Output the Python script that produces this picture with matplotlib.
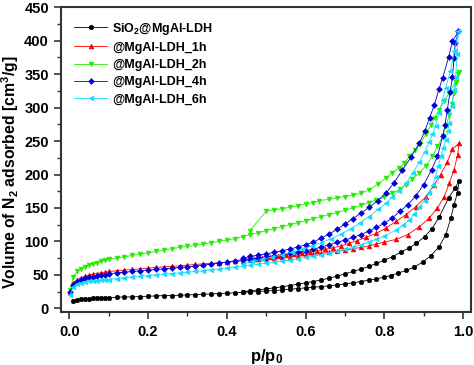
import matplotlib
matplotlib.use("Agg")
import matplotlib.pyplot as plt
from matplotlib.ticker import MultipleLocator

plt.rcParams['font.family'] = ['Liberation Sans', 'DejaVu Sans']
plt.rcParams['font.weight'] = 'bold'
plt.rcParams['mathtext.fontset'] = 'custom'
plt.rcParams['mathtext.rm'] = 'Liberation Sans:bold'
plt.rcParams['mathtext.it'] = 'Liberation Sans:bold'
plt.rcParams['mathtext.bf'] = 'Liberation Sans:bold'

labels = ["SiO$_2$@MgAl-LDH", "@MgAl-LDH_1h", "@MgAl-LDH_2h", "@MgAl-LDH_4h", "@MgAl-LDH_6h"]
colors = ["#000000", "#ff0000", "#22ee00", "#0000dd", "#11ddff"]
markers = ["o", "^", "v", "D", "<"]
msizes = [3.3, 3.5, 3.5, 3.0, 3.5]

# common low/mid relative-pressure grid for the adsorption branches
p_low = [0.01, 0.02, 0.03, 0.04, 0.05, 0.06, 0.07, 0.08, 0.09, 0.10,
         0.12, 0.14, 0.16, 0.18, 0.20, 0.22, 0.24, 0.26, 0.28, 0.30,
         0.32, 0.34, 0.36, 0.38, 0.40, 0.42, 0.44, 0.46, 0.48, 0.50,
         0.52, 0.54, 0.56, 0.58, 0.60, 0.62, 0.64, 0.66, 0.68, 0.70,
         0.72, 0.74, 0.76, 0.78, 0.80]

# ---- SiO2@MgAl-LDH
black_ads_v = [11, 12.5, 13.5, 14, 14.5, 15, 15, 15.5, 15.5, 16,
               16.5, 17, 17, 17.5, 18, 18.5, 19, 19, 19.5, 20,
               20.5, 21, 21.5, 22, 22.5, 23, 24, 24.5, 25, 26,
               26.5, 27.5, 28.5, 29.5, 30.5, 31.5, 32.5, 33.5, 35, 36.5,
               38, 40, 42, 44, 46.5]
black_ads_hp = [0.817, 0.834, 0.855, 0.876, 0.897, 0.918, 0.939, 0.956, 0.969, 0.977, 0.986, 0.99]
black_ads_hv = [49, 52.5, 56.5, 61.5, 69, 78.5, 92, 110, 135, 155, 173, 191]
black_des_p = [0.98, 0.963, 0.939, 0.921, 0.902, 0.881, 0.862, 0.842, 0.821, 0.80, 0.78, 0.76, 0.74,
               0.72, 0.70, 0.68, 0.66, 0.64, 0.62, 0.60, 0.58, 0.56, 0.54, 0.52, 0.50, 0.48, 0.46, 0.44]
black_des_v = [180, 165, 136, 119, 107, 97, 90, 84, 77, 72, 67, 62.5, 58.5,
               55, 51.5, 48, 45, 42.5, 40, 38, 36, 34, 32, 30.5, 29, 27.5, 26, 25]

# ---- @MgAl-LDH_1h
red_first = [0.002, 24]
red_ads_v = [38.5, 43, 46, 48, 49.5, 51, 52, 53, 54, 55,
             56, 57, 58, 59, 60, 61, 62, 62.5, 63.5, 64.5,
             65.5, 66.5, 67, 68, 69, 70, 71, 72, 73, 74,
             75, 76, 77, 78, 79, 80.5, 82, 83.5, 85, 87,
             89, 91, 93, 96, 99]
red_ads_hp = [0.83, 0.859, 0.889, 0.914, 0.935, 0.952, 0.965, 0.977, 0.986, 0.99]
red_ads_hv = [103, 110, 122, 135, 150, 167, 187, 207, 229, 247]
red_des_p = [0.973, 0.96, 0.943, 0.927, 0.906, 0.88, 0.855, 0.83, 0.804, 0.779, 0.754, 0.73,
             0.71, 0.69, 0.67, 0.65, 0.63, 0.61, 0.59, 0.57, 0.55, 0.53, 0.51, 0.49, 0.47]
red_des_v = [238, 219, 200, 185, 167, 152, 140, 130, 120, 112, 106, 101,
             97, 93.5, 90.5, 88, 86, 84, 82, 80.5, 79, 77.5, 76, 74.5, 73]

# ---- @MgAl-LDH_2h
green_first = [0.002, 28]
green_ads_v = [47, 55, 59, 62, 64, 66, 68, 70, 71.5, 73,
               75, 77, 79, 81, 83, 85, 87, 89, 91, 92.5,
               94, 96, 98, 100, 102, 104, 107, 110, 113, 116,
               119, 122, 125, 128, 131, 134, 137, 140, 143, 146.5,
               150, 154, 158, 162, 166]
green_ads_hp = [0.82, 0.84, 0.855, 0.87, 0.889, 0.905, 0.922, 0.935, 0.948, 0.957, 0.965, 0.972, 0.977, 0.982, 0.986, 0.99]
green_ads_hv = [172, 178, 185, 193, 202, 213, 227, 242, 257, 273, 289, 305, 322, 337, 351, 354]
green_des_p = [0.981, 0.965, 0.952, 0.939, 0.928, 0.918, 0.905, 0.89, 0.877, 0.863, 0.85, 0.838,
               0.82, 0.804, 0.785, 0.762, 0.74, 0.72, 0.70, 0.68, 0.66, 0.635, 0.62, 0.60,
               0.58, 0.56, 0.54, 0.52, 0.50, 0.458]
green_des_v = [339, 322, 310, 297, 285, 274, 260, 245, 236, 227, 217, 210,
               202, 195, 186, 177, 172, 169, 167, 165, 163, 161, 158, 156,
               153, 151, 149, 147, 145, 116]

# ---- @MgAl-LDH_4h
blue_first = [0.002, 24]
blue_ads_v = [35, 40, 43, 45, 46.5, 47.5, 48.5, 49.5, 50.5, 51.5,
              53, 54, 55, 56, 57, 58, 59, 60, 61, 62,
              63, 64.5, 66, 67.5, 69, 71, 72.5, 74, 75.5, 77,
              78.5, 80, 82, 84, 86, 88.5, 91.5, 95, 98.5, 102,
              106, 110, 115, 121, 127]
blue_ads_hp = [0.82, 0.84, 0.86, 0.88, 0.90, 0.92, 0.935, 0.948, 0.954, 0.96, 0.967, 0.973, 0.977, 0.98, 0.988]
blue_ads_hv = [135, 145, 155, 168, 185, 207, 227, 257, 274, 297, 324, 346, 374, 396, 414]
blue_des_p = [0.973, 0.963, 0.948, 0.939, 0.927, 0.915, 0.903, 0.889, 0.868, 0.846, 0.825, 0.804,
              0.783, 0.762, 0.74, 0.72, 0.70, 0.68, 0.66, 0.64, 0.62, 0.60, 0.58, 0.56,
              0.54, 0.52, 0.50, 0.48, 0.46, 0.44]
blue_des_v = [399, 375, 344, 328, 304, 285, 265, 247, 226, 207, 188, 172,
              161, 151, 142, 134, 126, 118, 111, 105, 99, 95, 91.5, 88.5,
              86, 83.5, 81.5, 79.5, 77.5, 75]

# ---- @MgAl-LDH_6h
cyan_first = [0.002, 20]
cyan_ads_v = [32.5, 36, 38, 39.5, 40.5, 41, 41.5, 42, 42.5, 43,
              44.5, 46, 47, 48, 49, 50, 51, 52, 53, 54,
              55, 56, 57.5, 58.5, 60, 61.5, 63, 64.5, 66, 67.5,
              69, 70.5, 72, 74, 76, 78, 80, 82.5, 85, 88,
              91, 95, 99, 103, 108]
cyan_ads_hp = [0.83, 0.847, 0.863, 0.876, 0.889, 0.902, 0.914, 0.923, 0.93, 0.937, 0.943, 0.95, 0.956,
               0.961, 0.965, 0.971, 0.977, 0.981, 0.985, 0.988]
cyan_ads_hv = [117, 124, 132, 141, 152, 161, 172, 184, 197, 212, 227, 240, 252,
               265, 277, 302, 327, 346, 380, 414]
cyan_des_p = [0.978, 0.968, 0.956, 0.948, 0.939, 0.93, 0.922, 0.914, 0.902, 0.889, 0.872, 0.855,
              0.838, 0.82, 0.804, 0.785, 0.76, 0.737, 0.715, 0.69, 0.665, 0.64, 0.615, 0.59,
              0.565, 0.54, 0.515, 0.49, 0.465, 0.44]
cyan_des_v = [385, 355, 330, 312, 292, 272, 260, 249, 233, 219, 202, 187,
              176, 166, 157, 148, 137, 127, 119, 111, 104, 98, 93, 88,
              84, 80, 76.5, 73, 70, 66]

series = [
    (None, black_ads_v, black_ads_hp, black_ads_hv, black_des_p, black_des_v),
    (red_first, red_ads_v, red_ads_hp, red_ads_hv, red_des_p, red_des_v),
    (green_first, green_ads_v, green_ads_hp, green_ads_hv, green_des_p, green_des_v),
    (blue_first, blue_ads_v, blue_ads_hp, blue_ads_hv, blue_des_p, blue_des_v),
    (cyan_first, cyan_ads_v, cyan_ads_hp, cyan_ads_hv, cyan_des_p, cyan_des_v),
]

fig = plt.figure(figsize=(4.74, 3.65), dpi=100)
ax = fig.add_axes([0.1297, 0.1444, 0.8639, 0.8356])

for (first, av, hp, hv, dp, dv), lab, c, m, ms in zip(series, labels, colors, markers, msizes):
    xs, ys = [], []
    if first is not None:
        xs.append(first[0]); ys.append(first[1])
    xs += p_low + hp + dp
    ys += av + hv + dv
    ax.plot(xs, ys, color=c, lw=0.6, marker=m, ms=ms, mec=c, mfc=c, mew=0.4, label=lab)

ax.set_xlim(-0.02, 1.02)
ax.set_ylim(-6, 450)
ax.xaxis.set_major_locator(MultipleLocator(0.2))
ax.xaxis.set_minor_locator(MultipleLocator(0.1))
ax.yaxis.set_major_locator(MultipleLocator(50))
ax.yaxis.set_minor_locator(MultipleLocator(25))
ax.xaxis.set_major_formatter(matplotlib.ticker.FormatStrFormatter('%.1f'))
ax.tick_params(which='major', direction='out', length=5, width=1.2, labelsize=10.5, color='#333333', pad=4)
ax.tick_params(which='minor', direction='out', length=3, width=1.0, color='#333333')
for s in ax.spines.values():
    s.set_color('#333333')
    s.set_linewidth(1.5)
for t in ax.get_xticklabels() + ax.get_yticklabels():
    t.set_fontweight('bold')

ax.set_xlabel("p/p$_0$", fontsize=12, fontweight='bold', labelpad=6)
ax.set_ylabel("Volume of N$_2$ adsorbed [cm$^3$/g]", fontsize=11.3, fontweight='bold')
ax.yaxis.set_label_coords(-0.100, 0.46)

leg = ax.legend(loc='upper left', frameon=False, fontsize=9, handlelength=2.6,
                borderaxespad=0.3, labelspacing=0.42, handletextpad=0.4,
                bbox_to_anchor=(0.01, 0.985))
for t in leg.get_texts():
    t.set_fontweight('bold')

fig.savefig("out.png", dpi=100)
